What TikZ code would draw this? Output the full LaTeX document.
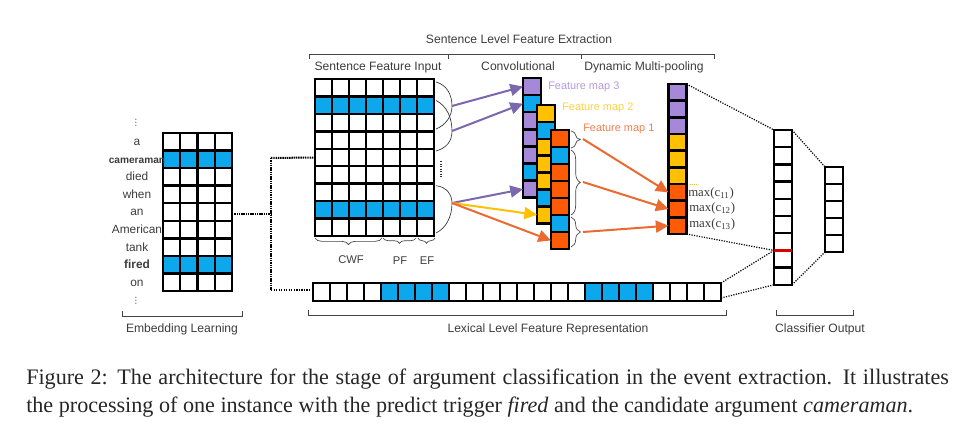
\documentclass[tikz,border=0pt]{standalone}
\usepackage{fontspec}
\setmainfont{Liberation Serif}
\setsansfont{Liberation Sans}
\newfontfamily\dotsfont{DejaVu Sans}
\usetikzlibrary{arrows.meta,positioning,calc,decorations.pathreplacing}

\definecolor{cellblue}{HTML}{0DA8EC}
\definecolor{cellpurple}{HTML}{A688D8}
\definecolor{cellyellow}{HTML}{FFC000}
\definecolor{cellorange}{HTML}{FF5A05}
\definecolor{arrowpurple}{HTML}{7B67AE}
\definecolor{arroworange}{HTML}{EA6A30}
\definecolor{labelgrey}{HTML}{3C3C3C}
\definecolor{bracketgrey}{HTML}{444444}

\tikzset{
	cellnode/.style={draw=black, line width=1.8pt, inner sep=0pt, outer sep=0pt},
	embcell/.style={cellnode, minimum width=12.94pt, minimum height=13.16pt},
	sentcell/.style={cellnode, minimum width=12.75pt, minimum height=13.08pt},
	lexcell/.style={cellnode, minimum width=12.75pt, minimum height=13.5pt},
	colcell/.style={cellnode, minimum width=13.5pt, minimum height=12.75pt},
	poolcell/.style={cellnode, minimum width=13.5pt, minimum height=12.5pt},
	hidcell/.style={cellnode, minimum width=13.5pt, minimum height=12.9pt},
	labelnode/.style={font=\sffamily\fontsize{9.1}{10}\selectfont, text=labelgrey, inner sep=0pt, anchor=base},
	wordnode/.style={labelnode, font=\sffamily\fontsize{8.9}{10}\selectfont},
	dotsnode/.style={font=\dotsfont\fontsize{6.5}{7}\selectfont, text=labelgrey, inner sep=0pt},
	maplabel/.style={font=\sffamily\fontsize{8.2}{10}\selectfont, inner sep=0pt, anchor=west},
	maxlabel/.style={font=\rmfamily\fontsize{9.6}{10}\selectfont, text=labelgrey, inner sep=0pt, anchor=west},
	bracketline/.style={draw=bracketgrey, line width=0.6pt},
	curlybrace/.style={draw=bracketgrey, line width=0.5pt, decorate},
	arcline/.style={draw=black!80, line width=0.5pt},
	fatarrow/.style={line width=1.5pt, -{Triangle[length=9.5pt,width=9pt]}},
	linkdots/.style={draw=black, line width=0.9pt, densely dotted},
	thicklink/.style={draw=black, line width=2pt, dash pattern=on 1.1pt off 0.6pt},
}

\begin{document}
\begin{tikzpicture}[x=0.75pt, y=-0.75pt]
	\useasboundingbox (0,0) rectangle (979,435);

	% embedding table
	\foreach \r/\col in {1/white,2/cellblue,3/white,4/white,5/white,6/white,7/white,8/cellblue,9/white}
		\foreach \c in {1,...,4}
			\node[embcell, fill=\col] (emb-\r-\c) at ({163+17.25*(\c-0.5)},{133+17.55*(\r-0.5)}) {};
	\foreach \w [count=\r] in {a,{\fontsize{7.6}{10}\selectfont\textbf{cameraman}},died,when,an,American,tank,\textbf{fired},on}
		\node[wordnode] (word-\r) at (137,{137+17.55*(\r-0.5)}) {\w};
	\node[dotsnode] (dotstop) at (136,123) {⋮};
	\node[dotsnode] (dotsbot) at (136,301) {⋮};

	% sentence table
	\foreach \r/\col in {1/white,2/cellblue,3/white,4/white,5/white,6/white,7/white,8/cellblue,9/white}
		\foreach \c in {1,...,7}
			\node[sentcell, fill=\col] (sent-\r-\c) at ({315+17*(\c-0.5)},{79+17.44*(\r-0.5)}) {};

	% lexical row
	\foreach \col [count=\c] in {white,white,white,white,cellblue,cellblue,cellblue,cellblue,white,white,white,white,white,white,white,white,cellblue,cellblue,cellblue,cellblue,white,white,white,white}
		\node[lexcell, fill=\col] (lex-\c) at ({313+17*(\c-0.5)},292) {};

	% three feature maps
	\foreach \col [count=\r] in {cellpurple,cellblue,cellpurple,cellpurple,cellpurple,cellblue,cellpurple}
		\node[colcell, fill=\col] (mapc-\r) at (532,{78+17.1*(\r-0.5)}) {};
	\foreach \col [count=\r] in {cellyellow,cellblue,cellyellow,cellyellow,cellyellow,cellblue,cellyellow}
		\node[colcell, fill=\col] (mapb-\r) at (546,{105+16.9*(\r-0.5)}) {};
	\foreach \col [count=\r] in {cellorange,cellblue,cellorange,cellorange,cellorange,cellblue,cellorange}
		\node[colcell, fill=\col] (mapa-\r) at (560,{130+17*(\r-0.5)}) {};

	% pooling column
	\foreach \col [count=\r] in {cellpurple,cellpurple,cellpurple,cellyellow,cellyellow,cellyellow,cellorange,cellorange,cellorange}
		\node[poolcell, fill=\col] (pool-\r) at (677.5,{84+16.67*(\r-0.5)}) {};

	% classifier columns
	\foreach \r in {1,...,9}
		\node[hidcell] (hid-\r) at (783,{130+17.2*(\r-0.5)}) {};
	\foreach \r in {1,...,5}
		\node[hidcell] (out-\r) at (834,{167+17*(\r-0.5)}) {};
	\draw[draw=red!85!black, line width=1.9pt] (hid-7.south west) -- (hid-7.south east);

	% links on the left
	\coordinate (joinmid) at (271,214);
	\coordinate (jointop) at (271,158);
	\coordinate (joinbot) at (271,290);
	\draw[thicklink] (joinmid -| emb-5-4.east) -- (joinmid);
	\draw[thicklink, line width=1.5pt] (jointop) -- (joinbot);
	\draw[thicklink, line width=1.5pt] (jointop) -- (sent-5-1.west);
	\draw[linkdots] (joinbot) -- (joinbot -| lex-1.west);

	% arcs over the windows
	\coordinate (arcone) at (452,106);
	\coordinate (arctwo) at (452,131);
	\coordinate (arcthree) at (452,203);
	\draw[arcline] (sent-1-7.north east) ++(2,3) .. controls (447,85) and (452,95) .. (arcone)
		.. controls (452,116) and (446,125) .. (436,129);
	\draw[arcline] (sent-2-7.north east) ++(2,4) .. controls (447,106) and (452,118) .. (arctwo)
		.. controls (452,142) and (446,148) .. (436,151);
	\draw[arcline] (sent-7-7.north east) ++(2,2) .. controls (447,187) and (452,195) .. (arcthree)
		.. controls (452,217) and (446,228) .. (436,233);
	\draw[draw=black!80, line width=0.9pt, densely dotted] (441,161) -- (441,178);

	% arrows to the feature maps
	\draw[fatarrow, arrowpurple] (arcone) -- (mapc-1.west);
	\draw[fatarrow, arrowpurple] (arctwo) -- (mapc-2.west);
	\draw[fatarrow, arrowpurple] (arcthree) -- (mapc-7.west);
	\draw[fatarrow, cellyellow] (arcthree) -- (mapb-7.west);
	\draw[fatarrow, arroworange] (arcthree) -- (mapa-7.west);

	% braces right of map 1
	\coordinate (tipone) at (583,139);
	\coordinate (tiptwo) at (583,182);
	\coordinate (tipthree) at (583,232);
	\draw[curlybrace, decoration={brace, amplitude=7pt, aspect=0.5}] (571,131) -- (571,148);
	\draw[curlybrace, decoration={brace, amplitude=7pt, aspect=0.5}] (571,150) -- (571,215);
	\draw[curlybrace, decoration={brace, amplitude=7pt, aspect=0.5}] (571,217) -- (571,247);
	\draw[fatarrow, arroworange] (tipone) -- (pool-7.west);
	\draw[fatarrow, arroworange] (tiptwo) -- (pool-8.west);
	\draw[fatarrow, arroworange] (tipthree) -- (pool-9.west);

	% links on the right
	\draw[linkdots] (pool-1.north east) -- (hid-1.north west);
	\draw[linkdots] (pool-9.south east) -- (hid-7.south west);
	\draw[linkdots] (lex-24.north east) -- (hid-7.south west);
	\draw[linkdots] (lex-24.south east) ++(0,-3) -- (hid-9.south west);
	\draw[linkdots] (hid-1.north east) -- (out-1.north west);
	\draw[linkdots] (hid-9.south east) -- (out-5.south west);
	\draw[draw=cellyellow, line width=0.6pt, densely dotted] (690,184) -- (698,184);

	% map names
	\node[maplabel, text=cellpurple!85!white] (namec) at (548,87) {Feature map 3};
	\node[maplabel, text=cellyellow!75!white] (nameb) at (562,108) {Feature map 2};
	\node[maplabel, text=arroworange!85!white] (namea) at (583,129) {Feature map 1};
	\node[maxlabel] (maxone) at (688,193) {max(c\textsubscript{11})};
	\node[maxlabel] (maxtwo) at (689,208) {max(c\textsubscript{12})};
	\node[maxlabel] (maxthree) at (689,224) {max(c\textsubscript{13})};

	% top brackets
	\draw[bracketline] (309,59) -- (309,54) -- (714,54) -- (714,59);
	\draw[bracketline] (448,54) -- (448,59);
	\draw[bracketline] (581,54) -- (581,59);
	\node[labelnode] (toptitle) at (519,44) {Sentence Level Feature Extraction};
	\node[labelnode] (inputtitle) at (378,71) {Sentence Feature Input};
	\node[labelnode] (convtitle) at (518,71) {Convolutional};
	\node[labelnode] (pooltitle) at (644,71) {Dynamic Multi-pooling};

	% braces below the sentence table
	\draw[curlybrace, decoration={brace, mirror, amplitude=5pt}] (315,238) -- (382,238);
	\draw[curlybrace, decoration={brace, mirror, amplitude=4pt}] (383,238) -- (416,238);
	\draw[curlybrace, decoration={brace, mirror, amplitude=4pt}] (418,238) -- (435,238);
	\node[wordnode, font=\sffamily\fontsize{8.4}{10}\selectfont] (cwflabel) at (351,263) {CWF};
	\node[wordnode, font=\sffamily\fontsize{8.4}{10}\selectfont] (pflabel) at (400,264) {PF};
	\node[wordnode, font=\sffamily\fontsize{8.4}{10}\selectfont] (eflabel) at (427,264) {EF};

	% bottom brackets
	\draw[bracketline] (122,311) -- (122,316) -- (242,316) -- (242,311);
	\draw[bracketline] (308,310) -- (308,315) -- (726,315) -- (726,310);
	\draw[bracketline] (776,310) -- (776,315) -- (853,315) -- (853,310);
	\node[labelnode] (emblabel) at (182,332) {Embedding Learning};
	\node[labelnode] (lexlabel) at (548,332) {Lexical Level Feature Representation};
	\node[labelnode] (clslabel) at (820,332) {Classifier Output};

	% caption
	\node[anchor=north west, inner sep=0pt, text width=692pt, align=justify, text=black!85,
		font=\rmfamily\fontsize{16.6}{21}\selectfont] (caption) at (26,369)
		{Figure 2: The architecture for the stage of argument classification in the event extraction. It illustrates\linebreak
		the processing of one instance with the predict trigger \emph{fired} and the candidate argument \emph{cameraman}.};
\end{tikzpicture}
\end{document}
